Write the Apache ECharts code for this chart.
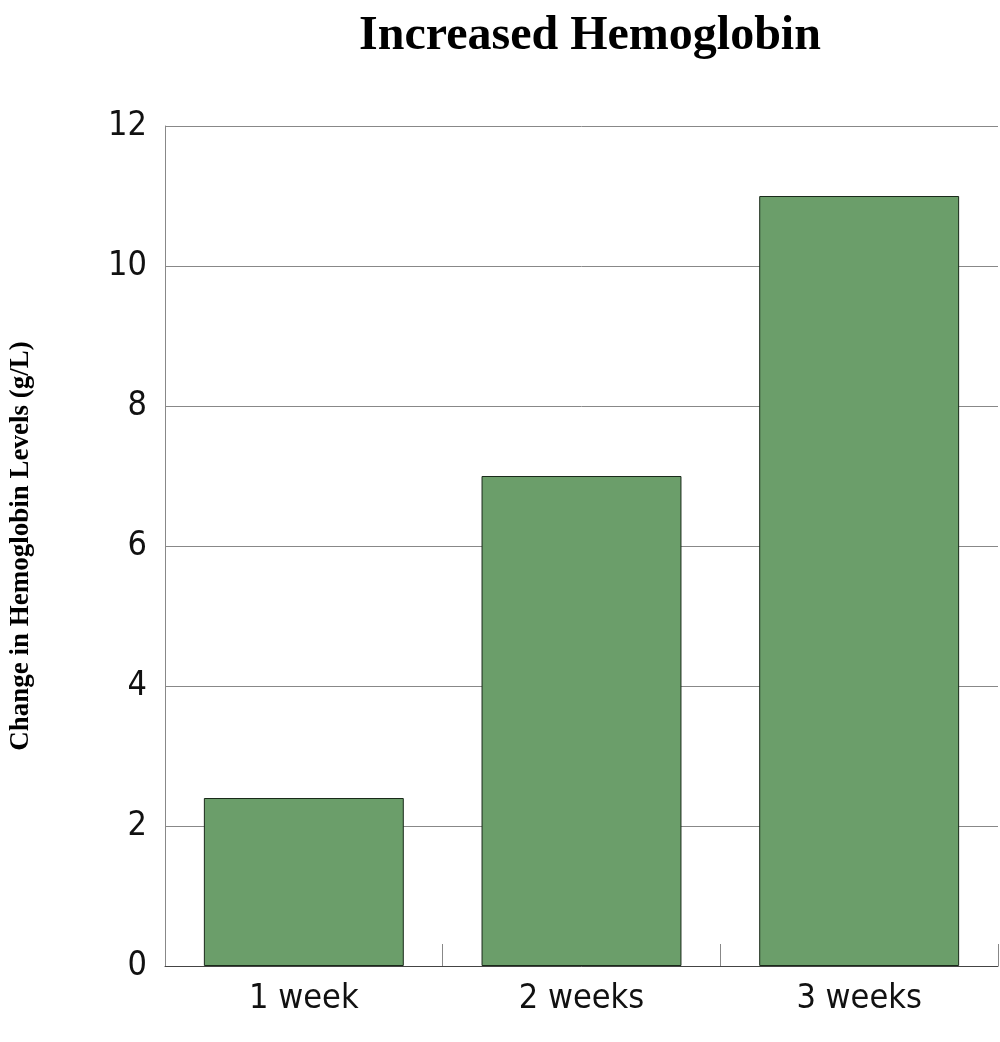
<!DOCTYPE html>
<html>
<head>
<meta charset="utf-8">
<script src="https://cdn.jsdelivr.net/npm/echarts@6/dist/echarts.min.js"></script>
<style>html,body{margin:0;padding:0;background:#fff}#chart{width:1000px;height:1042px}</style>
</head>
<body>
<div id="chart"></div>
<script>
// hemoglobin chart
var categories = ['1 week', '2 weeks', '3 weeks'];
var values = [2.4, 7, 11];
var yTicks = [0, 2, 4, 6, 8, 10, 12];

var myChart = echarts.init(document.getElementById('chart'));
var option = {
    animation: false,
    title: {
        text: 'Increased Hemoglobin',
        left: 585,
        textAlign: 'center',
        top: 8,
        textStyle: {fontFamily: 'Liberation Serif', fontWeight: 'bold', fontSize: 48, color: '#000'}
    },
    grid: {left: 158, right: 2, top: 126, bottom: 76},
    xAxis: {
        type: 'category',
        data: categories,
        axisLine: {lineStyle: {color: '#444', width: 1}},
        axisTick: {show: true, inside: true, length: 22, lineStyle: {color: '#888'}},
        axisLabel: {fontFamily: 'DejaVu Sans Condensed', fontSize: 34, color: '#111', margin: 16}
    },
    yAxis: {
        type: 'value',
        min: yTicks[0],
        max: yTicks[yTicks.length - 1],
        interval: 2,
        name: 'Change in Hemoglobin Levels (g/L)',
        nameLocation: 'middle',
        nameGap: 130,
        nameTextStyle: {fontFamily: 'Liberation Serif', fontWeight: 'bold', fontSize: 27, color: '#000'},
        axisLine: {show: true, lineStyle: {color: '#888'}},
        axisTick: {show: false},
        splitLine: {lineStyle: {color: '#888', width: 1}},
        axisLabel: {fontFamily: 'DejaVu Sans Condensed', fontSize: 34, color: '#111', margin: 18}
    },
    series: [{
        type: 'bar',
        data: values,
        barWidth: '72%',
        itemStyle: {color: '#6b9e6a', borderColor: '#1a2a1a', borderWidth: 1}
    }]
};
myChart.setOption(option);
window.onresize = myChart.resize;
</script>
</body>
</html>
